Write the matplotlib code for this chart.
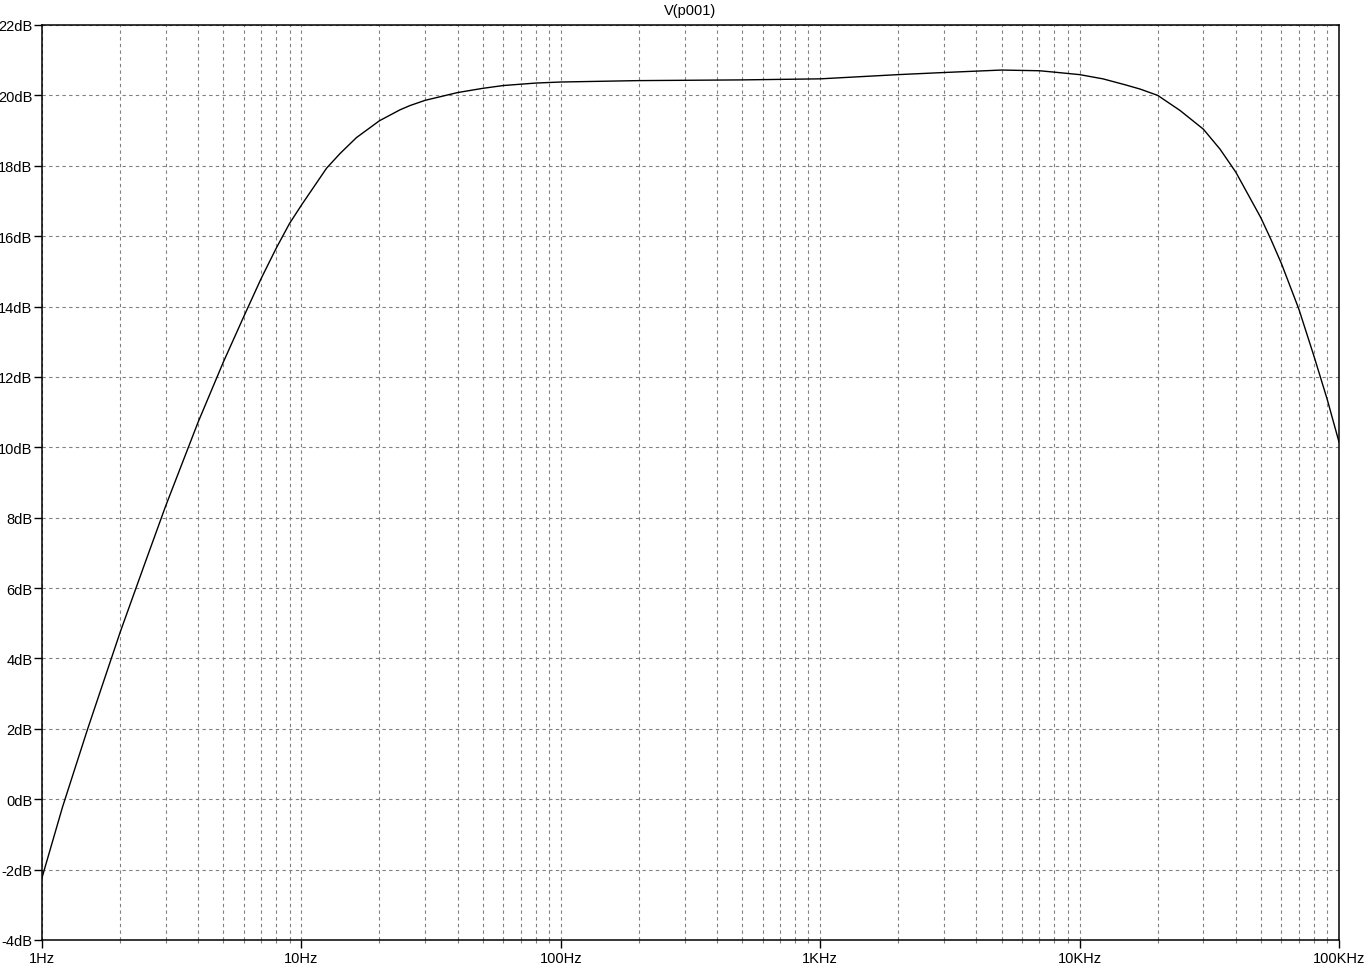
import matplotlib
matplotlib.use("Agg")
import matplotlib.pyplot as plt
import matplotlib.ticker as mticker
import numpy as np

# frequency response
freq_hz = [1, 1.2, 1.5, 2, 2.5, 3, 4, 5, 6, 7, 8, 9, 10,
           12.5, 14.1, 16.3, 20, 24, 26.2, 30, 40, 50, 60, 80, 100,
           200, 500, 1000, 2000, 3000, 5000, 7000, 8000, 10000, 12300,
           15000, 17100, 20000, 24400, 30000, 34800, 40000, 50000,
           54700, 60000, 70000, 80000, 90000, 100000]
mag_db = [-2.23, -0.22, 2.0, 4.74, 6.73, 8.34, 10.72, 12.42, 13.72, 14.8,
          15.66, 16.36, 16.88, 17.93, 18.35, 18.8, 19.28, 19.59, 19.71,
          19.86, 20.08, 20.2, 20.28, 20.35, 20.38, 20.42, 20.44, 20.47,
          20.59, 20.65, 20.72, 20.70, 20.66, 20.59, 20.47, 20.30, 20.18,
          20.0, 19.57, 19.04, 18.47, 17.82, 16.52, 15.9, 15.22, 13.93,
          12.6, 11.37, 10.15]

x_ticks = [1, 10, 100, 1000, 10000, 100000]
x_labels = ["1Hz", "10Hz", "100Hz", "1KHz", "10KHz", "100KHz"]
y_ticks = list(range(-4, 23, 2))
y_labels = [f"{v}dB" for v in y_ticks]
title = "V(p001)"

plt.rcParams['font.family'] = ['Liberation Sans', 'DejaVu Sans']

fig = plt.figure(figsize=(13.68, 9.70), dpi=100)
ax = fig.add_axes([42/1368, 1 - 941/970, (1339 - 42)/1368, (941 - 26)/970])

ax.plot(freq_hz, mag_db, color='black', linewidth=1.0)

ax.set_xscale('log')
ax.set_xlim(1, 100000)
ax.set_ylim(-4, 22)

ax.set_xticks(x_ticks)
ax.set_xticklabels(x_labels)
ax.xaxis.set_minor_locator(mticker.LogLocator(base=10, subs=np.arange(2, 10)))
ax.xaxis.set_minor_formatter(mticker.NullFormatter())
ax.set_yticks(y_ticks)
ax.set_yticklabels(y_labels)

grid_kw = dict(color='#808080', linestyle=(0, (3, 3)), linewidth=0.8)
ax.grid(True, which='major', axis='both', **grid_kw)
ax.grid(True, which='minor', axis='x', **grid_kw)
ax.set_axisbelow(True)

ax.tick_params(axis='both', which='major', direction='out', length=6,
               width=1, color='black', labelsize=10.5, pad=2)
ax.tick_params(axis='x', which='minor', direction='out', length=2.5,
               width=0.8, color='#808080')
ax.tick_params(axis='y', which='major', pad=1)

for s in ax.spines.values():
    s.set_linewidth(1.1)
    s.set_color('black')

ax.set_title(title, fontsize=10.5, pad=8)

fig.savefig("out.png", dpi=100)
